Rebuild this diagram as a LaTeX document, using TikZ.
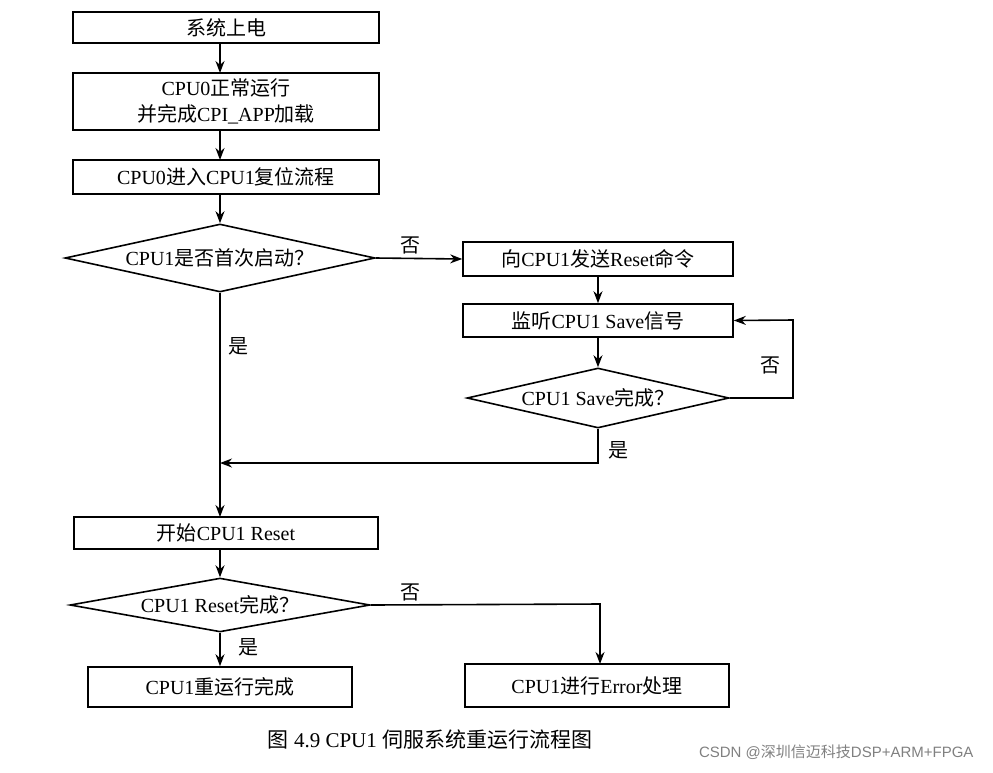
\documentclass[tikz,border=0pt]{standalone}
\usepackage{fontspec}
\setmainfont{Liberation Serif}
\newfontfamily\cjk{Noto Sans CJK SC}
\newcommand{\zh}[1]{{\cjk #1}}
\usetikzlibrary{arrows.meta,shapes.geometric}
\begin{document}
\begin{tikzpicture}[x=1pt,y=-1pt,
  box/.style={draw,line width=1.6pt,minimum height=#1,inner sep=0pt,font=\fontsize{20}{26}\selectfont},
  dia/.style={draw,line width=1.6pt,diamond,aspect=4.5,inner sep=0pt,font=\fontsize{20}{26}\selectfont},
  lab/.style={font=\fontsize{20}{24}\selectfont},
  arr/.style={line width=1.6pt,-{Stealth[length=12pt,width=9pt]}},
  ln/.style={line width=1.6pt}]
\useasboundingbox (0,0) rectangle (993,772);
\node[box=31pt,minimum width=306pt] (a) at (226,27.5) {\zh{系统上电}};
\node[box=57pt,minimum width=306pt,align=center] (b) at (226,101.5) {CPU0\zh{正常运行}\\\zh{并完成}CPI\_APP\zh{加载}};
\node[box=34pt,minimum width=306pt] (c) at (226,177) {CPU0\zh{进入}CPU1\zh{复位流程}};
\node[dia,minimum width=310pt,minimum height=68pt] (d1) at (220,258) {CPU1\zh{是否首次启动？}};
\node[box=34pt,minimum width=270pt] (e) at (598,259) {\zh{向}CPU1\zh{发送}Reset\zh{命令}};
\node[box=33pt,minimum width=270pt] (f) at (598,320.5) {\zh{监听}CPU1 Save\zh{信号}};
\node[dia,minimum width=262pt,minimum height=60pt] (d2) at (598,398) {CPU1 Save\zh{完成？}};
\node[box=32pt,minimum width=304pt] (g) at (226,533) {\zh{开始}CPU1 Reset};
\node[dia,minimum width=300pt,minimum height=50pt] (d3) at (220,605) {CPU1 Reset\zh{完成？}};
\node[box=40pt,minimum width=264pt] (h) at (220,687) {CPU1\zh{重运行完成}};
\node[box=43pt,minimum width=264pt] (i) at (597,685.5) {CPU1\zh{进行}Error\zh{处理}};
\coordinate (j) at (220,463);
\draw[arr] (220,43) -- (220,73);
\draw[arr] (220,130) -- (220,160);
\draw[arr] (220,194) -- (d1.north);
\draw[arr] (d1.east) -- (e.west) node[lab,pos=0.4,above] {\zh{否}};
\draw[arr] (e.south) -- (f.north);
\draw[arr] (f.south) -- (d2.north);
\draw[arr] (d2.east) -- (793,398) -- (793,320) -- (f.east);
\node[lab] at (770,365) {\zh{否}};
\draw[arr] (d2.south) -- (598,463) -- (j);
\node[lab] at (618,450) {\zh{是}};
\draw[arr] (d1.south) -- (220,517);
\node[lab] at (238,346) {\zh{是}};
\draw[arr] (220,549) -- (d3.north);
\draw[arr] (d3.south) -- (h.north);
\node[lab] at (248,647) {\zh{是}};
\draw[arr] (d3.east) -- (600,604) -- (600,664);
\node[lab] at (410,592) {\zh{否}};
\node[lab,font=\fontsize{21}{24}\selectfont] at (430,740) {\zh{图} 4.9 CPU1 \zh{伺服系统重运行流程图}};
\node[font=\fontsize{15}{18}\selectfont\fontspec{Liberation Sans},text=gray,anchor=east] at (977,752) {CSDN @\zh{深圳信迈科技}DSP+ARM+FPGA};
\end{tikzpicture}
\end{document}
